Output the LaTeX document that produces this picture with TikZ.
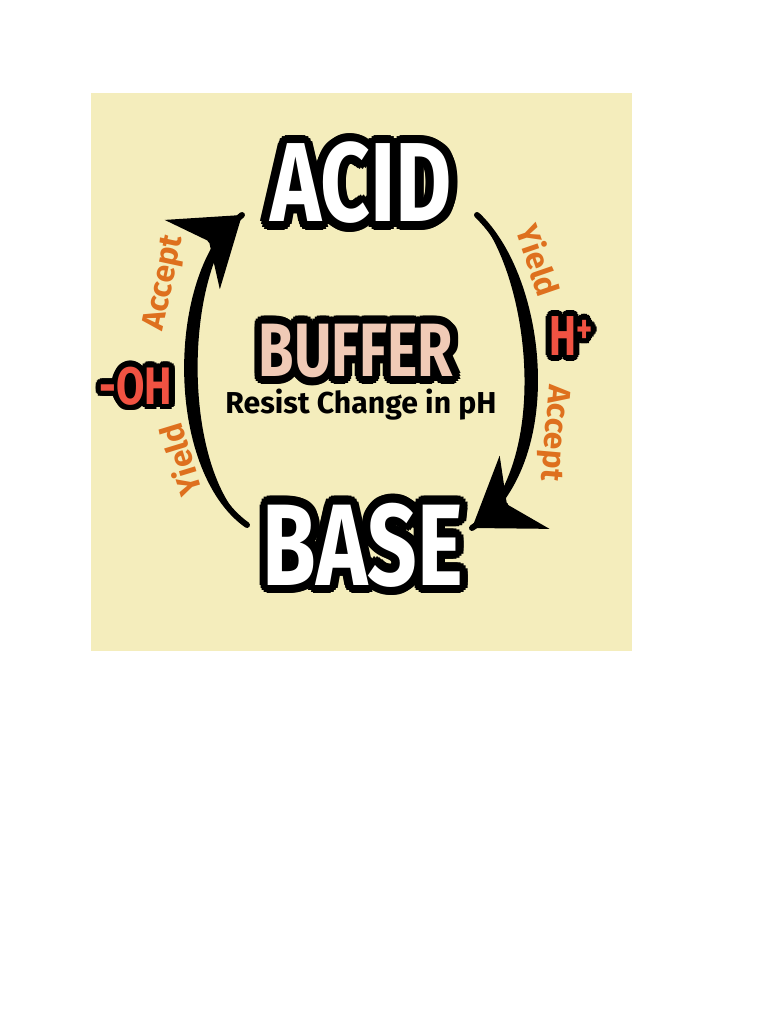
\documentclass[tikz,border=0pt]{standalone}
\usepackage{fontspec}
\setmainfont{Fira Sans}
\usetikzlibrary{arrows.meta}
\definecolor{paper}{RGB}{244,237,188}
\definecolor{labelorange}{RGB}{222,112,30}
\definecolor{ionred}{RGB}{240,82,66}
\definecolor{bufferpink}{RGB}{240,202,182}
\newcommand{\halo}[6]{%
  \foreach \ang in {0,20,...,340}
    \node[font=#3,text=black,shift={(\ang:#6)}] at (#1) {#5};
  \node[font=#3,text=#4] (#2) at (#1) {#5};}
\tikzset{swing/.style={line width=1.7pt},
  swingtip/.style={line width=1.7pt,-{Stealth[length=18pt,width=25pt,inset=6pt]}},
  rimtext/.style={font=\bfseries\fontsize{9}{9}\selectfont,text=labelorange}}

\begin{document}
\begin{tikzpicture}[line cap=round,line join=round,x=1.0cm,y=1.0cm]
	\useasboundingbox (0,0) rectangle (7.68,10.24);
	\fill[paper] (0.91,3.73) rectangle (6.32,9.31);
	\coordinate (acidpos) at (3.61,8.41);
	\coordinate (basepos) at (3.63,4.79);
	\coordinate (bufferpos) at (3.56,6.73);
	\coordinate (hpos) at (5.71,6.88);
	\coordinate (ohpos) at (1.36,6.38);
	\halo{acidpos}{acid}{\bfseries\fontsize{32}{32}\selectfont}{white}{\scalebox{0.77}[1]{ACID}}{2.4pt}
	\halo{basepos}{base}{\bfseries\fontsize{33}{33}\selectfont}{white}{\scalebox{0.75}[1]{BASE}}{2.4pt}
	\halo{bufferpos}{buffer}{\bfseries\fontsize{21.5}{21.5}\selectfont}{bufferpink}{\scalebox{0.76}[1]{BUFFER}}{2.2pt}
	\halo{hpos}{hplus}{\bfseries\fontsize{16}{16}\selectfont}{ionred}{\scalebox{0.72}[1]{H\raisebox{3.5pt}{\fontsize{12}{12}\selectfont+}}}{1.6pt}
	\halo{ohpos}{ohminus}{\bfseries\fontsize{15}{15}\selectfont}{ionred}{\scalebox{0.78}[1]{-OH}}{1.6pt}
	\node[font=\bfseries\fontsize{8.6}{8.6}\selectfont,anchor=base] (resist) at (3.61,6.10) {Resist Change in pH};
	\coordinate (acidout) at (4.77,8.09);
	\coordinate (basein) at (4.72,4.96);
	\coordinate (baseout) at (2.47,4.99);
	\coordinate (acidin) at (2.42,8.09);
	\fill (acidout) .. controls (5.45,7.45) and (5.65,5.6) .. (basein) .. controls (5.51,5.6) and (5.31,7.45) .. (acidout);
	\fill (baseout) .. controls (1.68,5.55) and (1.68,7.5) .. (acidin) .. controls (1.82,7.5) and (1.82,5.55) .. (baseout);
	\draw[swing] (acidout) .. controls (5.45,7.45) and (5.65,5.6) .. (basein);
	\draw[swing] (baseout) .. controls (1.68,5.55) and (1.68,7.5) .. (acidin);
	\draw[swingtip] (4.97,5.13) -- (basein);
	\draw[swingtip] (2.185,7.903) -- (acidin);
	\node[rimtext,rotate=-71] (yieldh) at (5.39,7.64) {Yield};
	\node[rimtext,rotate=-95] (accepth) at (5.53,5.91) {Accept};
	\node[rimtext,rotate=78] (acceptoh) at (1.65,7.41) {Accept};
	\node[rimtext,rotate=107] (yieldoh) at (1.80,5.64) {Yield};
\end{tikzpicture}
\end{document}
